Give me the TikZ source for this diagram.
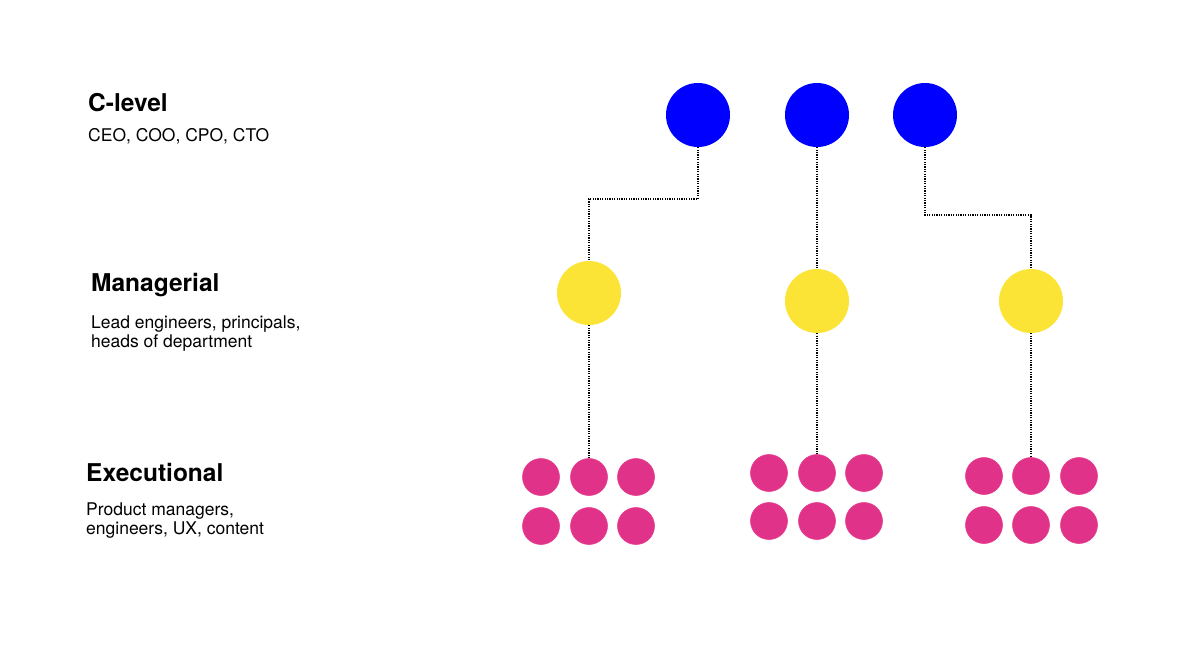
\documentclass[tikz,border=0pt]{standalone}
\usepackage{fontspec}
\setmainfont{TeX Gyre Heros}
\definecolor{cblue}{HTML}{0000FF}
\definecolor{cyellow}{HTML}{FCE437}
\definecolor{cpink}{HTML}{E03288}
\definecolor{cpinkedge}{HTML}{E6418F}
\tikzset{
  clevel/.style={circle, fill=cblue, minimum size=64pt, inner sep=0pt},
  manager/.style={circle, fill=cyellow, minimum size=64pt, inner sep=0pt},
  worker/.style={circle, fill=cpink, draw=cpinkedge, line width=0.6pt, minimum size=37pt, inner sep=0pt},
  link/.style={dash pattern=on 1.2pt off 1.2pt, line width=1.2pt, black},
  title/.style={anchor=base west, inner sep=0pt, font=\fontsize{24.5}{28}\selectfont\bfseries},
  desc/.style={anchor=base west, inner sep=0pt, align=left, font=\fontsize{17.5}{19}\selectfont},
}
\begin{document}
\begin{tikzpicture}[x=1pt,y=-1pt]
\useasboundingbox (0,0) rectangle (1200,670);
% left texts
\node[title] (t1) at (88,111) {C-level};
\node[desc] (d1) at (88,141) {CEO, COO, CPO, CTO};
\node[title] (t2) at (91,291) {Managerial};
\node[desc] (d2) at (91,347) {Lead engineers, principals,\\heads of department};
\node[title] (t3) at (86,481) {Executional};
\node[desc] (d3) at (86,534) {Product managers,\\engineers, UX, content};
% C-level
\node[clevel] (c1) at (698,115) {};
\node[clevel] (c2) at (817,115) {};
\node[clevel] (c3) at (925,115) {};
% managers
\node[manager] (m1) at (589,293) {};
\node[manager] (m2) at (817,301) {};
\node[manager] (m3) at (1031,301) {};
% workers group 1
\node[worker] (a1) at (541,477) {};
\node[worker] (a2) at (589,477) {};
\node[worker] (a3) at (636,477) {};
\node[worker] (a4) at (541,526) {};
\node[worker] (a5) at (589,526) {};
\node[worker] (a6) at (636,526) {};
% group 2
\node[worker] (b1) at (769,473) {};
\node[worker] (b2) at (817,473) {};
\node[worker] (b3) at (864,473) {};
\node[worker] (b4) at (769,521) {};
\node[worker] (b5) at (817,521) {};
\node[worker] (b6) at (864,521) {};
% group 3
\node[worker] (e1) at (984,476) {};
\node[worker] (e2) at (1031,476) {};
\node[worker] (e3) at (1079,476) {};
\node[worker] (e4) at (984,525) {};
\node[worker] (e5) at (1031,525) {};
\node[worker] (e6) at (1079,525) {};
% connectors
\coordinate (k1) at (698,199);
\coordinate (k2) at (589,199);
\coordinate (k3) at (925,215);
\coordinate (k4) at (1031,215);
\draw[link] (c1.south) -- (k1) -- (k2) -- (m1.north);
\draw[link] (c2.south) -- (m2.north);
\draw[link] (c3.south) -- (k3) -- (k4) -- (m3.north);
\draw[link] (m1.south) -- (a2.north);
\draw[link] (m2.south) -- (b2.north);
\draw[link] (m3.south) -- (e2.north);
\end{tikzpicture}
\end{document}
